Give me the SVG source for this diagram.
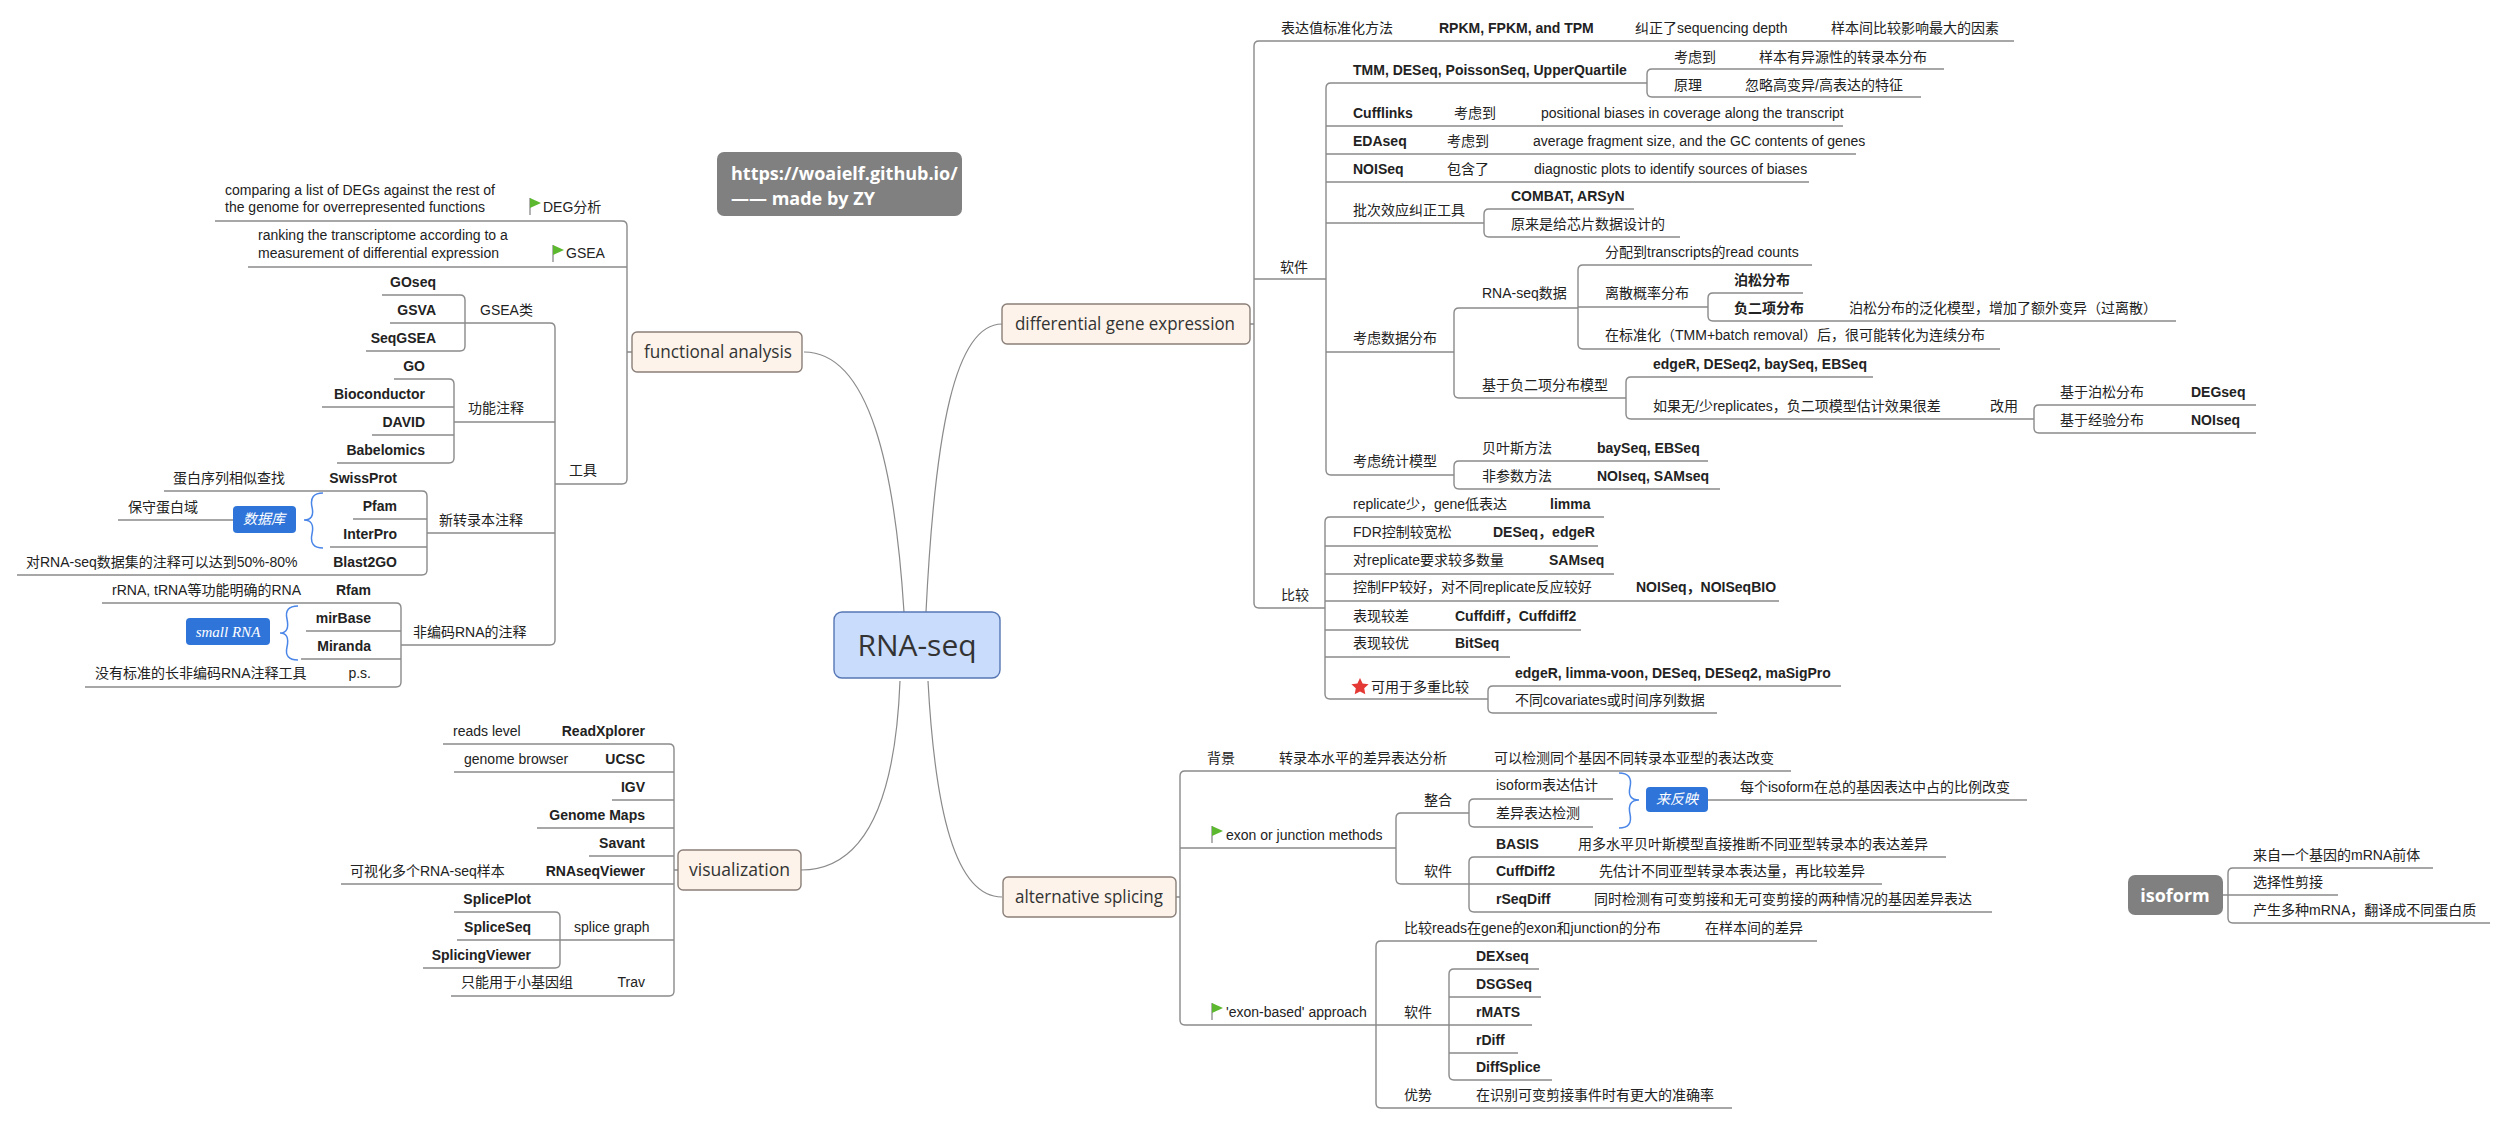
<svg xmlns="http://www.w3.org/2000/svg" width="2507" height="1124" viewBox="0 0 2507 1124">
<style>
.l{fill:none;stroke:#8a8a8a;stroke-width:1.4}
.c{fill:none;stroke:#8a8a8a;stroke-width:1.2}
text{font-family:"Liberation Sans","Noto Sans CJK SC",sans-serif;font-size:14px;fill:#222}
.b{font-weight:bold}
.e{text-anchor:end}
.m{font-family:"Open Sans","Noto Sans CJK SC",sans-serif;font-size:19px;fill:#333}
.box{fill:#fdf3ea;stroke:#8a7f78;stroke-width:1.4}
.blue{fill:#2f74d9}
.bt{fill:#fff;font-style:italic;font-size:14px}
.br{fill:none;stroke:#4a86e8;stroke-width:1.5}
.flag{fill:#5cb82e}
.pole{stroke:#999;stroke-width:1.5}
</style>
<rect width="2507" height="1124" fill="#fff"/>
<g id="connectors">
<path class="c" d="M904,612 C895,470 870,352 804,352"/>
<path class="c" d="M926,612 C935,430 955,324 1002,324"/>
<path class="c" d="M900,681 C895,810 860,870 801,870"/>
<path class="c" d="M928,681 C935,810 955,897 1002,897"/>
<path class="l" d="M622,221 Q627,221 627,226 V479 Q627,484 622,484 M627,352 H632"/>
<path class="l" d="M215,221 H622 M248,267 H627 M555,484 H622"/>
<path class="l" d="M550,323 Q555,323 555,328 V640 Q555,645 550,645"/>
<path class="l" d="M465,323 H550 M454,422 H555 M427,533 H555 M401,645 H550"/>
<path class="l" d="M460,295 Q465,295 465,300 V346 Q465,351 460,351 M382,295 H460 M390,323 H465 M366,351 H460"/>
<path class="l" d="M449,379 Q454,379 454,384 V458 Q454,463 449,463 M394,379 H449 M322,407 H454 M372,435 H454 M337,463 H449"/>
<path class="l" d="M422,491 Q427,491 427,496 V570 Q427,575 422,575 M164,491 H422 M353,519 H427 M330,547 H427 M17,575 H422"/>
<path class="l" d="M396,603 Q401,603 401,608 V682 Q401,687 396,687 M102,603 H396 M306,631 H401 M301,659 H401 M85,687 H396"/>
<path class="l" d="M118,520 H233"/>
<path class="l" d="M669,744 Q674,744 674,749 V991 Q674,996 669,996 M674,870 H678"/>
<path class="l" d="M443,744 H669 M454,772 H674 M612,800 H674 M537,828 H674 M589,856 H674 M341,884 H674 M560,940 H674 M451,996 H669"/>
<path class="l" d="M555,912 Q560,912 560,917 V963 Q560,968 555,968 M454,912 H555 M457,940 H560 M423,968 H555"/>
<path class="l" d="M1259,41 Q1254,41 1254,46 V603 Q1254,608 1259,608 M1250,324 H1254"/>
<path class="l" d="M1259,41 H2014 M1254,279 H1326 M1259,608 H1325"/>
<path class="l" d="M1331,83 Q1326,83 1326,88 V470 Q1326,475 1331,475"/>
<path class="l" d="M1331,83 H1647 M1326,126 H1843 M1326,154 H1856 M1326,182 H1809 M1326,223 H1484 M1326,352 H1454 M1331,475 H1454"/>
<path class="l" d="M1652,69 Q1647,69 1647,74 V92 Q1647,97 1652,97 M1652,69 H1944 M1652,97 H1921"/>
<path class="l" d="M1489,209 Q1484,209 1484,214 V232 Q1484,237 1489,237 M1489,209 H1634 M1489,237 H1680"/>
<path class="l" d="M1459,308 Q1454,308 1454,313 V393 Q1454,398 1459,398 M1459,308 H1578 M1459,398 H1626"/>
<path class="l" d="M1583,265 Q1578,265 1578,270 V344 Q1578,349 1583,349 M1583,265 H1812 M1578,307 H1708 M1583,349 H2000"/>
<path class="l" d="M1713,293 Q1708,293 1708,298 V316 Q1708,321 1713,321 M1713,293 H1803 M1713,321 H2176"/>
<path class="l" d="M1631,377 Q1626,377 1626,382 V414 Q1626,419 1631,419 M1631,377 H1873 M1631,419 H2034"/>
<path class="l" d="M2039,405 Q2034,405 2034,410 V428 Q2034,433 2039,433 M2039,405 H2256 M2039,433 H2256"/>
<path class="l" d="M1459,461 Q1454,461 1454,466 V484 Q1454,489 1459,489 M1459,461 H1708 M1459,489 H1720"/>
<path class="l" d="M1330,517 Q1325,517 1325,522 V694 Q1325,699 1330,699 M1330,517 H1604 M1325,546 H1598 M1325,574 H1614 M1325,601 H1779 M1325,630 H1581 M1325,657 H1510 M1330,699 H1488"/>
<path class="l" d="M1493,686 Q1488,686 1488,691 V708 Q1488,713 1493,713 M1493,686 H1841 M1493,713 H1717"/>
<path class="l" d="M1185,771 Q1180,771 1180,776 V1020 Q1180,1025 1185,1025 M1175,897 H1180"/>
<path class="l" d="M1185,771 H1791 M1180,848 H1396 M1185,1025 H1376"/>
<path class="l" d="M1401,813 Q1396,813 1396,818 V879 Q1396,884 1401,884 M1401,813 H1469 M1401,884 H1469"/>
<path class="l" d="M1474,799 Q1469,799 1469,804 V822 Q1469,827 1474,827 M1474,799 H1613 M1474,827 H1593"/>
<path class="l" d="M1474,857 Q1469,857 1469,862 V907 Q1469,912 1474,912 M1474,857 H1946 M1469,884 H1882 M1474,912 H1992"/>
<path class="l" d="M1381,941 Q1376,941 1376,946 V1103 Q1376,1108 1381,1108 M1381,941 H1817 M1376,1025 H1449 M1381,1108 H1732"/>
<path class="l" d="M1454,969 Q1449,969 1449,974 V1075 Q1449,1080 1454,1080 M1454,969 H1539 M1449,997 H1541 M1449,1025 H1532 M1449,1053 H1518 M1454,1080 H1552"/>
<path class="l" d="M1708,800 H2027"/>
<path class="l" d="M2233,868 Q2228,868 2228,873 V918 Q2228,923 2233,923 M2233,868 H2433 M2223,895 H2338 M2233,923 H2490"/>
<path class="br" d="M323,493 Q309,493 312,507 Q315,520 304,520 Q315,520 312,534 Q309,548 323,548"/>
<path class="br" d="M298,606 Q284,606 287,619 Q290,633 280,633 Q290,633 287,647 Q284,660 298,660"/>
<path class="br" d="M1619,773 Q1633,773 1630,787 Q1627,800 1639,800 Q1627,800 1630,814 Q1633,828 1619,828"/>
</g>

<g id="root"><rect x="834" y="612" width="166" height="66" rx="8" fill="#c9dcfb" stroke="#5677b4" stroke-width="1.4"/><text x="917" y="656" text-anchor="middle" style="font-family:'Open Sans',sans-serif;font-size:30px;fill:#333">RNA-seq</text></g>
<g id="watermark"><rect x="717" y="152" width="245" height="64" rx="7" fill="#808080"/><text x="731" y="180" class="b" style="font-family:'Open Sans',sans-serif;font-size:18px;fill:#fff">https://woaielf.github.io/</text><text x="731" y="205" class="b" style="font-family:'Open Sans',sans-serif;font-size:18px;fill:#fff">—— made by ZY</text></g>
<g id="n-fa"><rect class="box" x="632" y="332" width="170" height="40" rx="5"/><text class="m" x="644" y="358" textLength="148" lengthAdjust="spacingAndGlyphs">functional analysis</text></g>
<g id="n-dge"><rect class="box" x="1002" y="304" width="248" height="40" rx="5"/><text class="m" x="1015" y="330" textLength="220" lengthAdjust="spacingAndGlyphs">differential gene expression</text></g>
<g id="n-viz"><rect class="box" x="678" y="850" width="123" height="40" rx="5"/><text class="m" x="689" y="876" textLength="101" lengthAdjust="spacingAndGlyphs">visualization</text></g>
<g id="n-as"><rect class="box" x="1003" y="877" width="173" height="40" rx="5"/><text class="m" x="1015" y="903" textLength="148" lengthAdjust="spacingAndGlyphs">alternative splicing</text></g>
<g id="n-iso"><rect x="2128" y="875" width="95" height="40" rx="7" fill="#808080"/><text x="2175" y="902" text-anchor="middle" class="b" style="font-family:'Open Sans',sans-serif;font-size:18px;fill:#fff">isoform</text></g>

<g id="fa-children">
<text x="225" y="195">comparing a list of DEGs against the rest of</text>
<text x="225" y="212">the genome for overrepresented functions</text>
<line class="pole" x1="530" y1="198" x2="530" y2="215"/><path class="flag" d="M530,198 L541,203 L530,208Z"/><text x="543" y="212">DEG分析</text>
<text x="258" y="240">ranking the transcriptome according to a</text>
<text x="258" y="258">measurement of differential expression</text>
<line class="pole" x1="553" y1="245" x2="553" y2="262"/><path class="flag" d="M553,245 L564,250 L553,255Z"/><text x="566" y="258">GSEA</text>
<text x="569" y="475">工具</text>
<text x="480" y="315">GSEA类</text>
<text class="b e" x="436" y="287">GOseq</text>
<text class="b e" x="436" y="315">GSVA</text>
<text class="b e" x="436" y="343">SeqGSEA</text>
<text x="468" y="413">功能注释</text>
<text class="b e" x="425" y="371">GO</text>
<text class="b e" x="425" y="399">Bioconductor</text>
<text class="b e" x="425" y="427">DAVID</text>
<text class="b e" x="425" y="455">Babelomics</text>
<text x="439" y="525">新转录本注释</text>
<text x="173" y="483">蛋白序列相似查找</text><text class="b e" x="397" y="483">SwissProt</text>
<text class="b e" x="397" y="511">Pfam</text>
<text class="b e" x="397" y="539">InterPro</text>
<text x="26" y="567">对RNA-seq数据集的注释可以达到50%-80%</text><text class="b e" x="397" y="567">Blast2GO</text>
<text x="128" y="512">保守蛋白域</text>
<text x="413" y="637">非编码RNA的注释</text>
<text x="112" y="595">rRNA, tRNA等功能明确的RNA</text><text class="b e" x="371" y="595">Rfam</text>
<text class="b e" x="371" y="623">mirBase</text>
<text class="b e" x="371" y="651">Miranda</text>
<text x="95" y="678">没有标准的长非编码RNA注释工具</text><text class="e" x="371" y="678">p.s.</text>
</g>
<g id="db-box"><rect class="blue" x="233" y="506" width="63" height="27" rx="4"/><text class="bt" x="264" y="524" text-anchor="middle">数据库</text></g>
<g id="smallrna-box"><rect class="blue" x="186" y="618" width="84" height="27" rx="4"/><text class="bt" x="228" y="637" text-anchor="middle" style="font-family:'Liberation Serif',serif;font-size:15px">small RNA</text></g>

<g id="viz-children">
<text x="453" y="736">reads level</text><text class="b e" x="645" y="736">ReadXplorer</text>
<text x="464" y="764">genome browser</text><text class="b e" x="645" y="764">UCSC</text>
<text class="b e" x="645" y="792">IGV</text>
<text class="b e" x="645" y="820">Genome Maps</text>
<text class="b e" x="645" y="848">Savant</text>
<text x="350" y="876">可视化多个RNA-seq样本</text><text class="b e" x="645" y="876">RNAseqViewer</text>
<text x="574" y="932">splice graph</text>
<text class="b e" x="531" y="904">SplicePlot</text>
<text class="b e" x="531" y="932">SpliceSeq</text>
<text class="b e" x="531" y="960">SplicingViewer</text>
<text x="461" y="987">只能用于小基因组</text><text class="e" x="645" y="987">Trav</text>
</g>

<g id="dge-children">
<text x="1281" y="33">表达值标准化方法</text><text class="b" x="1439" y="33">RPKM, FPKM, and TPM</text><text x="1635" y="33">纠正了sequencing depth</text><text x="1831" y="33">样本间比较影响最大的因素</text>
<text x="1280" y="272">软件</text>
<text class="b" x="1353" y="75">TMM, DESeq, PoissonSeq, UpperQuartile</text>
<text x="1674" y="62">考虑到</text><text x="1759" y="62">样本有异源性的转录本分布</text>
<text x="1674" y="90">原理</text><text x="1745" y="90">忽略高变异/高表达的特征</text>
<text class="b" x="1353" y="118">Cufflinks</text><text x="1454" y="118">考虑到</text><text x="1541" y="118">positional biases in coverage along the transcript</text>
<text class="b" x="1353" y="146">EDAseq</text><text x="1447" y="146">考虑到</text><text x="1533" y="146">average fragment size, and the GC contents of genes</text>
<text class="b" x="1353" y="174">NOISeq</text><text x="1447" y="174">包含了</text><text x="1534" y="174">diagnostic plots to identify sources of biases</text>
<text x="1353" y="215">批次效应纠正工具</text>
<text class="b" x="1511" y="201">COMBAT, ARSyN</text>
<text x="1511" y="229">原来是给芯片数据设计的</text>
<text x="1353" y="343">考虑数据分布</text>
<text x="1482" y="298">RNA-seq数据</text>
<text x="1605" y="257">分配到transcripts的read counts</text>
<text x="1605" y="298">离散概率分布</text>
<text class="b" x="1734" y="285">泊松分布</text>
<text class="b" x="1734" y="313">负二项分布</text><text x="1849" y="313">泊松分布的泛化模型，增加了额外变异（过离散）</text>
<text x="1605" y="340">在标准化（TMM+batch removal）后，很可能转化为连续分布</text>
<text x="1482" y="390">基于负二项分布模型</text>
<text class="b" x="1653" y="369">edgeR, DESeq2, baySeq, EBSeq</text>
<text x="1653" y="411">如果无/少replicates，负二项模型估计效果很差</text><text x="1990" y="411">改用</text>
<text x="2060" y="397">基于泊松分布</text><text class="b" x="2191" y="397">DEGseq</text>
<text x="2060" y="425">基于经验分布</text><text class="b" x="2191" y="425">NOIseq</text>
<text x="1353" y="466">考虑统计模型</text>
<text x="1482" y="453">贝叶斯方法</text><text class="b" x="1597" y="453">baySeq, EBSeq</text>
<text x="1482" y="481">非参数方法</text><text class="b" x="1597" y="481">NOIseq, SAMseq</text>
<text x="1281" y="600">比较</text>
<text x="1353" y="509">replicate少，gene低表达</text><text class="b" x="1550" y="509">limma</text>
<text x="1353" y="537">FDR控制较宽松</text><text class="b" x="1493" y="537">DESeq，edgeR</text>
<text x="1353" y="565">对replicate要求较多数量</text><text class="b" x="1549" y="565">SAMseq</text>
<text x="1353" y="592">控制FP较好，对不同replicate反应较好</text><text class="b" x="1636" y="592">NOISeq，NOISeqBIO</text>
<text x="1353" y="621">表现较差</text><text class="b" x="1455" y="621">Cuffdiff，Cuffdiff2</text>
<text x="1353" y="648">表现较优</text><text class="b" x="1455" y="648">BitSeq</text>
<path d="M1360,678 L1362.6,683.4 L1368.6,684.2 L1364.2,688.3 L1365.3,694.2 L1360,691.4 L1354.7,694.2 L1355.8,688.3 L1351.4,684.2 L1357.4,683.4Z" fill="#e53935"/>
<text x="1371" y="692">可用于多重比较</text>
<text class="b" x="1515" y="678">edgeR, limma-voon, DESeq, DESeq2, maSigPro</text>
<text x="1515" y="705">不同covariates或时间序列数据</text>
</g>

<g id="as-children">
<text x="1207" y="763">背景</text><text x="1279" y="763">转录本水平的差异表达分析</text><text x="1494" y="763">可以检测同个基因不同转录本亚型的表达改变</text>
<line class="pole" x1="1212" y1="826" x2="1212" y2="843"/><path class="flag" d="M1212,826 L1223,831 L1212,836Z"/><text x="1226" y="840">exon or junction methods</text>
<text x="1424" y="805">整合</text>
<text x="1496" y="790">isoform表达估计</text>
<text x="1496" y="818">差异表达检测</text>
<text x="1740" y="792">每个isoform在总的基因表达中占的比例改变</text>
<text x="1424" y="876">软件</text>
<text class="b" x="1496" y="849">BASIS</text><text x="1578" y="849">用多水平贝叶斯模型直接推断不同亚型转录本的表达差异</text>
<text class="b" x="1496" y="876">CuffDiff2</text><text x="1599" y="876">先估计不同亚型转录本表达量，再比较差异</text>
<text class="b" x="1496" y="904">rSeqDiff</text><text x="1594" y="904">同时检测有可变剪接和无可变剪接的两种情况的基因差异表达</text>
<line class="pole" x1="1212" y1="1003" x2="1212" y2="1020"/><path class="flag" d="M1212,1003 L1223,1008 L1212,1013Z"/><text x="1226" y="1017">'exon-based' approach</text>
<text x="1404" y="933">比较reads在gene的exon和junction的分布</text><text x="1705" y="933">在样本间的差异</text>
<text x="1404" y="1017">软件</text>
<text class="b" x="1476" y="961">DEXseq</text>
<text class="b" x="1476" y="989">DSGSeq</text>
<text class="b" x="1476" y="1017">rMATS</text>
<text class="b" x="1476" y="1045">rDiff</text>
<text class="b" x="1476" y="1072">DiffSplice</text>
<text x="1404" y="1100">优势</text><text x="1476" y="1100">在识别可变剪接事件时有更大的准确率</text>
</g>
<g id="reflect-box"><rect class="blue" x="1646" y="787" width="62" height="25" rx="4"/><text class="bt" x="1677" y="804" text-anchor="middle">来反映</text></g>

<g id="iso-children">
<text x="2253" y="860">来自一个基因的mRNA前体</text>
<text x="2253" y="887">选择性剪接</text>
<text x="2253" y="915">产生多种mRNA，翻译成不同蛋白质</text>
</g>
</svg>
